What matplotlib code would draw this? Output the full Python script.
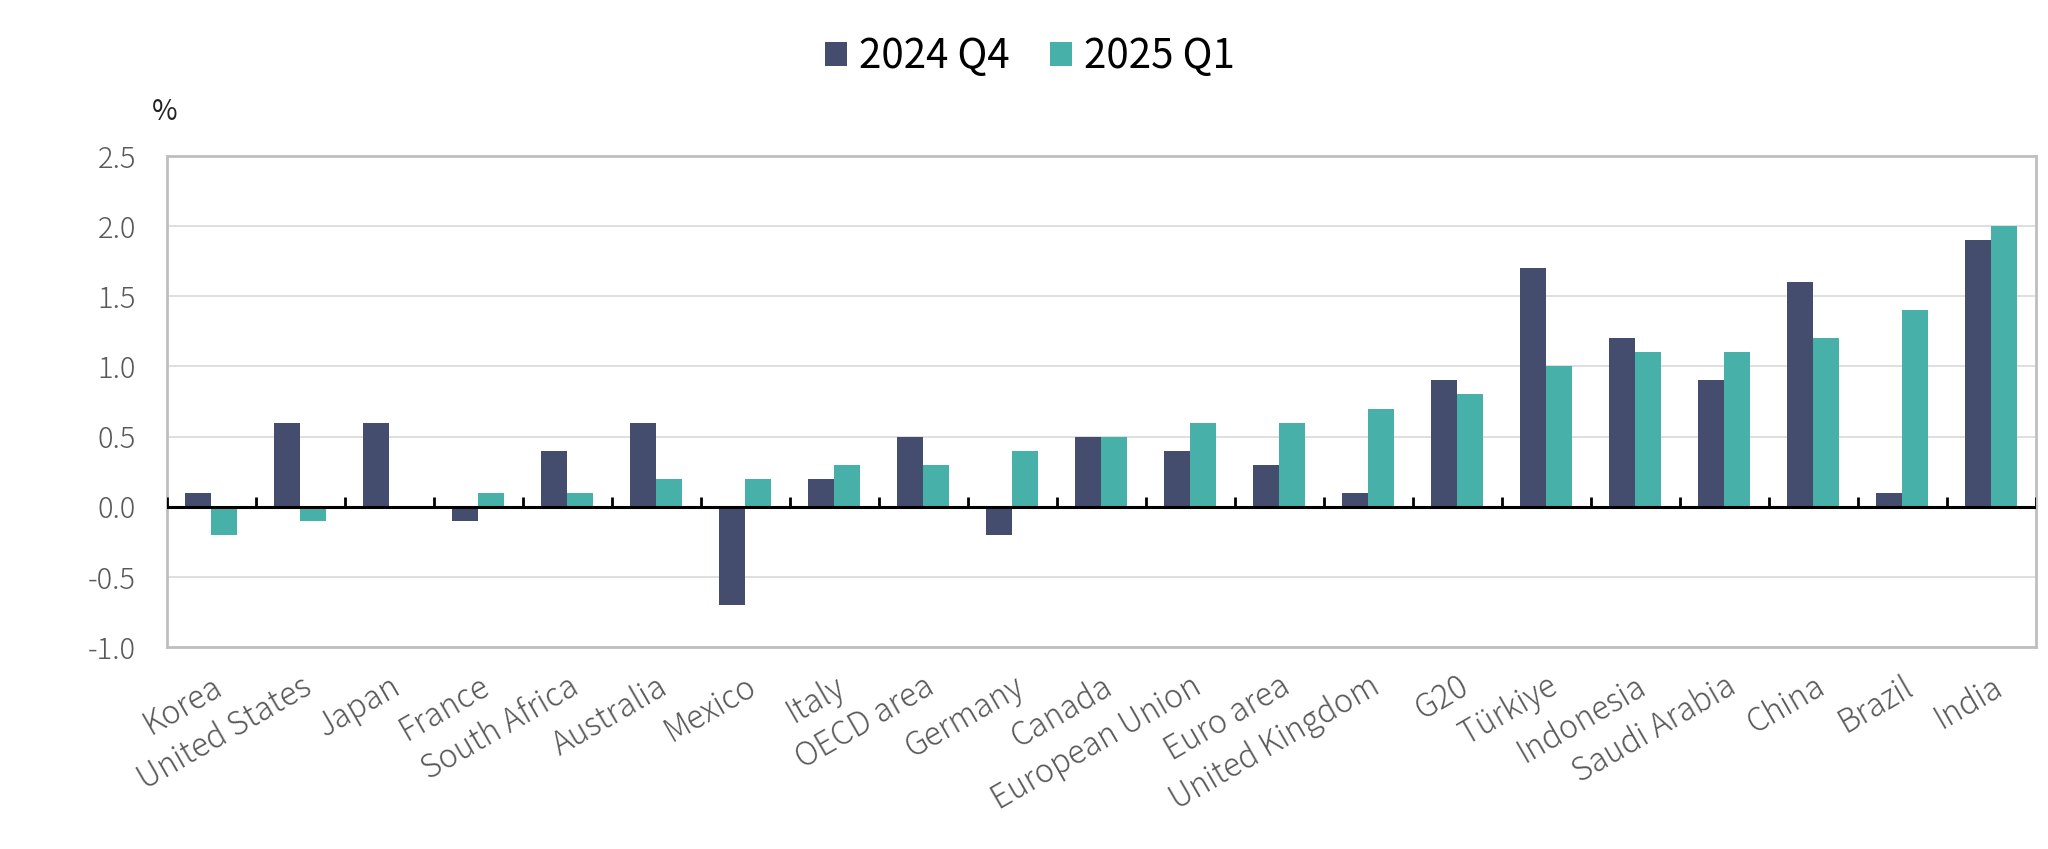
import numpy as np
import matplotlib
matplotlib.use("Agg")
import matplotlib.pyplot as plt

plt.rcParams['font.family'] = ['Noto Sans CJK JP', 'DejaVu Sans']

# Data (% change, quarter on quarter)
countries = ["Korea", "United States", "Japan", "France", "South Africa", "Australia",
             "Mexico", "Italy", "OECD area", "Germany", "Canada", "European Union",
             "Euro area", "United Kingdom", "G20", "Türkiye", "Indonesia",
             "Saudi Arabia", "China", "Brazil", "India"]
q4_2024 = [0.1, 0.6, 0.6, -0.1, 0.4, 0.6, -0.7, 0.2, 0.5, -0.2, 0.5, 0.4,
           0.3, 0.1, 0.9, 1.7, 1.2, 0.9, 1.6, 0.1, 1.9]
q1_2025 = [-0.2, -0.1, 0.0, 0.1, 0.1, 0.2, 0.2, 0.3, 0.3, 0.4, 0.5, 0.6,
           0.6, 0.7, 0.8, 1.0, 1.1, 1.1, 1.2, 1.4, 2.0]
series_labels = ["2024 Q4", "2025 Q1"]
y_ticks = [-1.0, -0.5, 0.0, 0.5, 1.0, 1.5, 2.0, 2.5]

navy = "#454D6E"
teal = "#47B0A8"
tick_grey = "#595959"

fig = plt.figure(figsize=(20.48, 8.49), dpi=100)
ax = fig.add_axes([0.0813, 0.2379, 0.9127, 0.5784])

x = np.arange(len(countries))
w = 0.29
ax.bar(x - w / 2, q4_2024, width=w, color=navy, label=series_labels[0], zorder=3)
ax.bar(x + w / 2, q1_2025, width=w, color=teal, label=series_labels[1], zorder=3)

ax.set_xlim(-0.5, len(countries) - 0.5)
ax.set_ylim(-1.0, 2.5)
ax.set_yticks(y_ticks)
ax.set_yticklabels([f"{v:.1f}" for v in y_ticks])
ax.yaxis.grid(True, color="#D9D9D9", linewidth=1.2, zorder=0)
ax.set_axisbelow(True)

# zero line with small category ticks (Excel style)
ax.axhline(0, color="black", linewidth=2.2, zorder=4)
ax.vlines(np.arange(len(countries) + 1) - 0.5, 0, 0.07, color="black", linewidth=2, zorder=4)

for s in ax.spines.values():
    s.set_color("#BFBFBF")
    s.set_linewidth(2)

ax.tick_params(axis="y", length=0, pad=22, labelsize=21, labelcolor=tick_grey)
ax.tick_params(axis="x", length=0, pad=16, labelsize=23, labelcolor=tick_grey)
ax.set_xticks(x)
ax.set_xticklabels(countries, rotation=30, ha="right", va="top", rotation_mode="anchor")
for lbl in ax.get_xticklabels() + ax.get_yticklabels():
    lbl.set_fontweight("light")

fig.text(0.0806, 0.868, "%", ha="center", va="center", fontsize=20, color="#222222")

fig.legend(loc="center", bbox_to_anchor=(0.503, 0.933), ncol=2, frameon=False,
           fontsize=29, handlelength=0.55, handleheight=0.55, handletextpad=0.3,
           columnspacing=1.0)

fig.savefig("out.png", dpi=100)
